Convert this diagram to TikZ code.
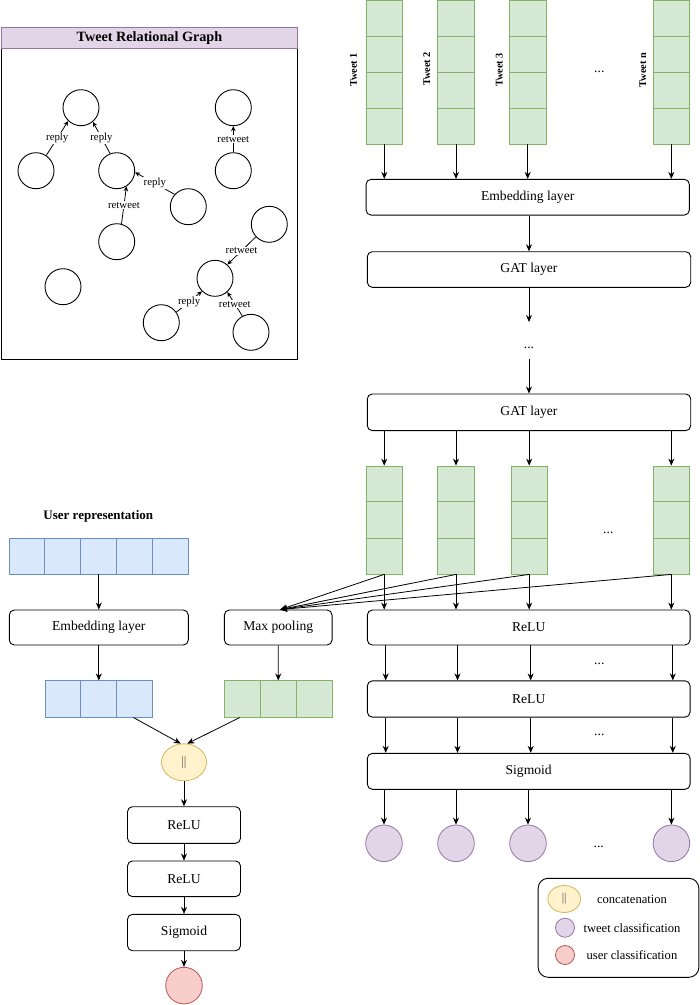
\documentclass[tikz,border=0pt]{standalone}
\usepackage{fontspec}
\setmainfont{Liberation Serif}
\usetikzlibrary{arrows.meta,calc,shapes.geometric}
\definecolor{gfill}{HTML}{D5E8D4}\definecolor{gline}{HTML}{82B366}
\definecolor{bfill}{HTML}{DAE8FC}\definecolor{bline}{HTML}{6C8EBF}
\definecolor{yfill}{HTML}{FFF2CC}\definecolor{yline}{HTML}{D6B656}
\definecolor{pfill}{HTML}{E1D5E7}\definecolor{pline}{HTML}{9673A6}
\definecolor{rfill}{HTML}{F8CECC}\definecolor{rline}{HTML}{B85450}
\newcommand{\mycolsplit}[3]{%
  \pgfmathtruncatemacro{\mynm}{#2-1}%
  \foreach \k in {1,...,\mynm} \draw[#3, line width=0.8pt] ($(#1.north west)!\k/#2!(#1.south west)$) -- ($(#1.north east)!\k/#2!(#1.south east)$);}
\newcommand{\myrowsplit}[3]{%
  \pgfmathtruncatemacro{\mynm}{#2-1}%
  \foreach \k in {1,...,\mynm} \draw[#3, line width=0.8pt] ($(#1.north west)!\k/#2!(#1.north east)$) -- ($(#1.south west)!\k/#2!(#1.south east)$);}
\tikzset{
  fnt/.style={font=\fontsize{13.6}{15}\selectfont},
  layer/.style={draw=black, line width=0.9pt, rounded corners=5pt, fill=white, fnt, inner sep=0pt},
  arr/.style={-{Stealth[length=7pt,width=6pt]}, line width=0.8pt},
  garr/.style={-{Stealth[length=5pt,width=4.5pt]}, line width=0.8pt},
  gnode/.style={circle, draw, line width=0.9pt, minimum size=36pt, inner sep=0pt},
  elab/.style={fill=white, inner sep=1pt, font=\fontsize{10.8}{12}\selectfont},
  gvec/.style={draw=gline, fill=gfill, line width=0.8pt, inner sep=0pt},
  bvec/.style={draw=bline, fill=bfill, line width=0.8pt, inner sep=0pt},
  tlab/.style={rotate=90, font=\bfseries\fontsize{10.3}{12}\selectfont, inner sep=0pt},
  dotlab/.style={fnt, inner sep=0pt},
  pcirc/.style={circle, draw=pline, fill=pfill, line width=0.8pt, inner sep=0pt},
  rcirc/.style={circle, draw=rline, fill=rfill, line width=0.8pt, inner sep=0pt},
  ycirc/.style={ellipse, draw=yline, fill=yfill, line width=0.8pt, inner sep=0pt},
  legtext/.style={font=\fontsize{12.6}{14}\selectfont, inner sep=0pt},
}
\begin{document}
\begin{tikzpicture}[x=1pt,y=-1pt]
\useasboundingbox (0,0) rectangle (700,1005);

% ---------- Tweet relational graph ----------
\node[draw, line width=0.9pt, minimum width=296pt, minimum height=332pt, anchor=north west, inner sep=0pt] (frame) at (1,27) {};
\node[draw=pline, fill=pfill, line width=0.9pt, minimum width=296pt, minimum height=21pt, anchor=north west, inner sep=0pt, font=\bfseries\fontsize{14.2}{16}\selectfont] (title) at (1,27) {Tweet Relational Graph};

\node[gnode] (A) at (81,107.7) {};
\node[gnode] (B) at (36,170.7) {};
\node[gnode] (C) at (116.7,170.7) {};
\node[gnode] (D) at (188.3,206.7) {};
\node[gnode] (E) at (116.7,241.7) {};
\node[gnode] (F) at (233.3,107.7) {};
\node[gnode] (G) at (233.3,170.7) {};
\node[gnode] (H) at (269.3,224.3) {};
\node[gnode] (I) at (215,278.3) {};
\node[gnode] (J) at (63,286.7) {};
\node[gnode] (K) at (161.3,322.7) {};
\node[gnode] (L) at (251,332.3) {};

\draw[garr] (B.56) -- node[elab]{reply} (A.-134);
\draw[garr] (C.111) -- node[elab]{reply} (A.-50);
\draw[garr] (D.138) -- node[elab]{reply} (C.-5);
\draw[garr] (E.75) -- node[elab]{retweet} (C.-58);
\draw[garr] (G.north) -- node[elab]{retweet} (F.south);
\draw[garr] (H.-137) -- node[elab]{retweet} (I.48);
\draw[garr] (K.35) -- node[elab]{reply} (I.-135);
\draw[garr] (L.118) -- node[elab]{retweet} (I.-48);

% ---------- Tweet inputs ----------
\foreach \n/\x in {t1/384.3, t2/456, t3/527.7, tn/671.3}
  \node[gvec, minimum width=36.5pt, minimum height=143.5pt] (\n) at (\x,72.2) {};
\foreach \n in {t1,t2,t3,tn} {\mycolsplit{\n}{4}{gline}}
\node[tlab] (lt1) at (353.5,70) {Tweet 1};
\node[tlab] (lt2) at (426.7,69) {Tweet 2};
\node[tlab] (lt3) at (499.3,70) {Tweet 3};
\node[tlab] (ltn) at (642.7,70) {Tweet n};
\node[dotlab] (dtop) at (599.3,71.7) {...};

\node[layer, minimum width=323.3pt, minimum height=35.7pt] (emb) at (527.7,197.2) {Embedding layer};
\foreach \n in {t1,t2,t3,tn} \draw[arr] (\n.south) -- (\n.south |- emb.north);

\node[layer, minimum width=323.4pt, minimum height=35.6pt] (gat1) at (529,269.5) {GAT layer};
\draw[arr] (gat1.north |- emb.south) -- (gat1.north);
\coordinate (dA) at (529,322);
\coordinate (dB) at (529,359.3);
\draw[arr] (gat1.south) -- (dA);
\node[dotlab] (vdots) at (529,348.3) {...};
\node[layer, minimum width=323.4pt, minimum height=36.7pt] (gat2) at (529,412.3) {GAT layer};
\draw[arr] (dB) -- (gat2.north);

% ---------- GAT outputs ----------
\foreach \n/\x in {g1/384.2, g2/456, g3/529.2, gn/671.3}
  \node[gvec, minimum width=36.3pt, minimum height=108pt] (\n) at (\x,520) {};
\foreach \n in {g1,g2,g3,gn} {\mycolsplit{\n}{3}{gline}}
\node[dotlab] (dmid) at (608.3,532.7) {...};
\foreach \n in {g1,g2,g3,gn} \draw[arr] (gat2.south -| \n) -- (\n.north);

\node[layer, minimum width=107.7pt, minimum height=35pt] (maxp) at (278.2,627.5) {Max pooling};
\node[layer, minimum width=322.7pt, minimum height=35pt] (relu1) at (528.7,627.5) {ReLU};
\foreach \n in {g1,g2,g3,gn} {
  \draw[arr] (\n.south) -- (\n.south |- relu1.north);
  \draw[arr] (\n.south) -- ($(maxp.north)+(2,0)$);
}
\node[layer, minimum width=322.7pt, minimum height=36.3pt] (relu2) at (528.7,699) {ReLU};
\node[layer, minimum width=322.7pt, minimum height=36pt] (sigr) at (528.7,771.3) {Sigmoid};
\foreach \n in {g1,g2,g3,gn} {
  \draw[arr] ($(\n.south |- relu1.south)+(1.5,0)$) -- ($(\n.south |- relu2.north)+(1.5,0)$);
  \draw[arr] ($(\n.south |- relu2.south)+(1.5,0)$) -- ($(\n.south |- sigr.north)+(1.5,0)$);
}
\node[dotlab] (dr1) at (599.3,664) {...};
\node[dotlab] (dr2) at (599.3,735) {...};

\foreach \n/\x in {p1/384, p2/456, p3/528, pn/671.4}
  \node[pcirc, minimum size=36.6pt] (\n) at (\x,843.3) {};
\foreach \n in {p1,p2,p3,pn} \draw[arr] (sigr.south -| \n) -- (\n.north);
\node[dotlab] (dbot) at (598.7,846.7) {...};

% ---------- User branch ----------
\node[font=\bfseries\fontsize{13}{14}\selectfont, inner sep=0pt] (urt) at (98.3,516.7) {User representation};
\node[bvec, minimum width=179pt, minimum height=35.3pt] (urep) at (98.8,556.3) {};
\myrowsplit{urep}{5}{bline}
\node[layer, minimum width=179pt, minimum height=35pt] (uemb) at (98.8,627.5) {Embedding layer};
\draw[arr] (urep.south) -- (uemb.north);
\node[bvec, minimum width=107.7pt, minimum height=36.3pt] (u3) at (98.8,699) {};
\myrowsplit{u3}{3}{bline}
\draw[arr] (uemb.south) -- (u3.north);
\node[gvec, minimum width=108pt, minimum height=36.3pt] (gp) at (278.3,699) {};
\myrowsplit{gp}{3}{gline}
\draw[arr] (maxp.south) -- (gp.north);

\node[ycirc, minimum width=45pt, minimum height=37pt, font=\fontsize{13}{15}\selectfont, text=black!65] (cat) at (184,762.3) {||};
\draw[arr] ($(u3.south west)!0.82!(u3.south east)$) -- (cat.100);
\draw[arr] ($(gp.south west)!0.145!(gp.south east)$) -- (cat.80);

\node[layer, minimum width=113pt, minimum height=36.6pt] (lr1) at (184,825) {ReLU};
\node[layer, minimum width=113pt, minimum height=35.7pt] (lr2) at (184,878.8) {ReLU};
\node[layer, minimum width=113pt, minimum height=36.4pt] (ls) at (184,932.5) {Sigmoid};
\node[rcirc, minimum size=36.6pt] (ucls) at (184,985.6) {};
\draw[arr] (cat.south) -- (lr1.north);
\draw[arr] (lr1.south) -- (lr2.north);
\draw[arr] (lr2.south) -- (ls.north);
\draw[arr] (ls.south) -- (ucls.north);

% ---------- Legend ----------
\node[draw, line width=0.9pt, rounded corners=10pt, minimum width=160.7pt, minimum height=99pt, inner sep=0pt] (leg) at (618.5,927.8) {};
\node[ycirc, minimum width=32.6pt, minimum height=27pt, font=\fontsize{12}{14}\selectfont, text=black!65] (lcat) at (564.2,899) {||};
\node[pcirc, minimum size=19pt] (lpur) at (565,927.7) {};
\node[rcirc, minimum size=19pt] (lred) at (565,955) {};
\node[legtext] (tcat) at (632,899) {concatenation};
\node[legtext] (tpur) at (632,927.7) {tweet classification};
\node[legtext] (tred) at (632,955) {user classification};
\end{tikzpicture}
\end{document}
